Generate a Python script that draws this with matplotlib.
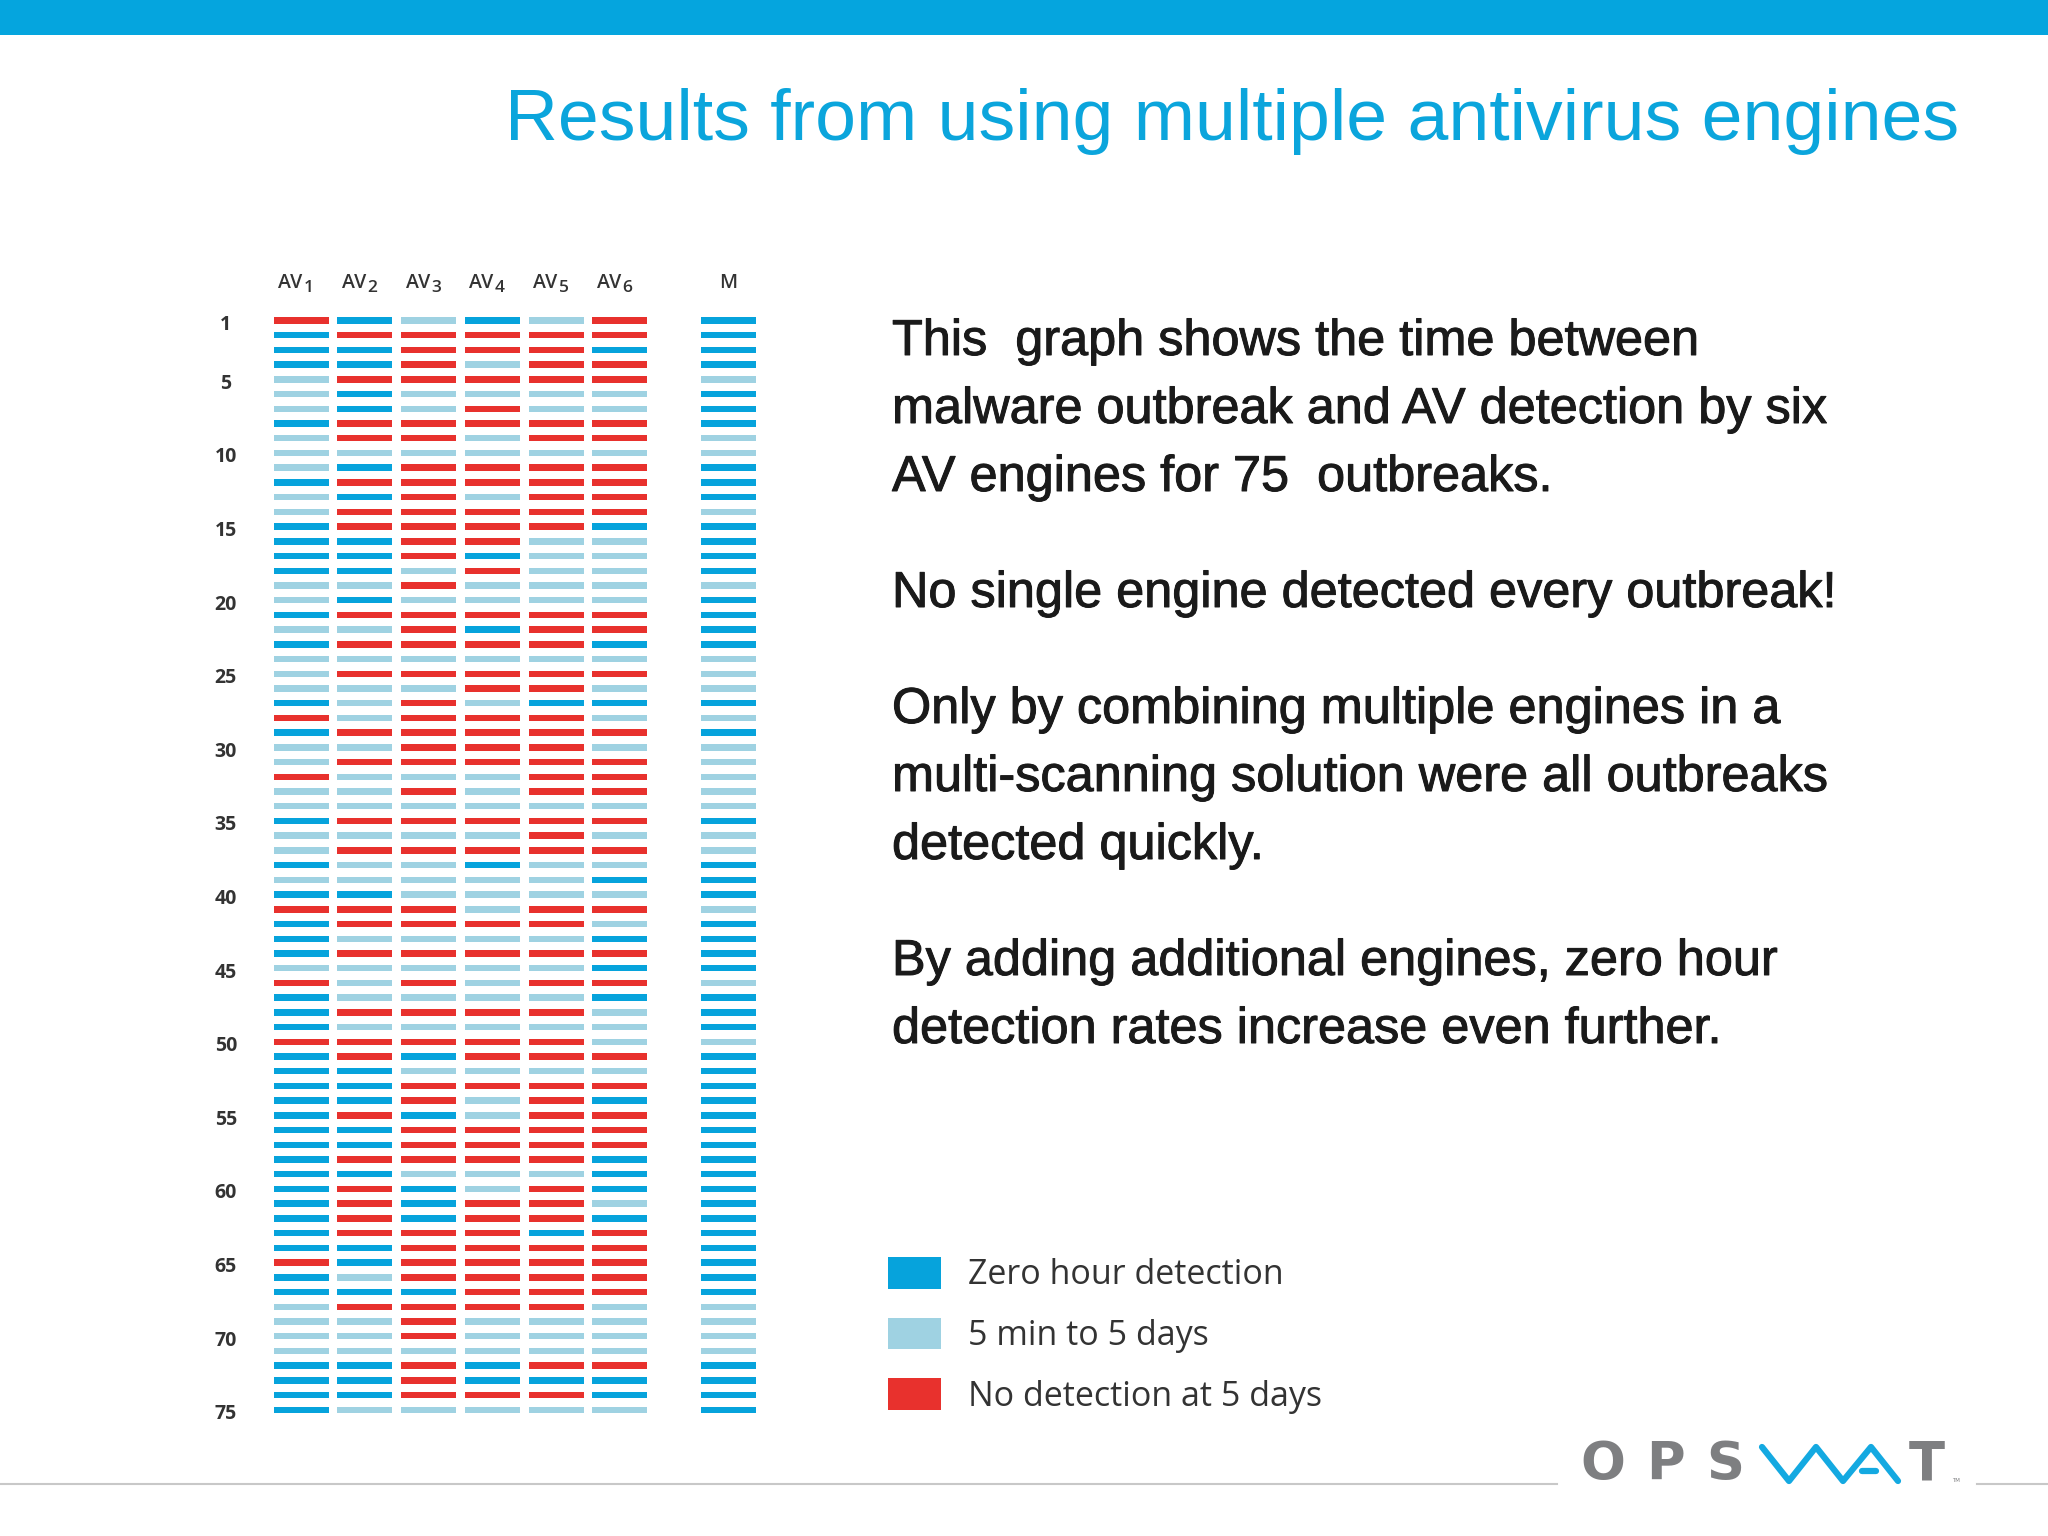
import matplotlib
matplotlib.use("Agg")
import matplotlib.pyplot as plt
from matplotlib.patches import Patch, Rectangle
from matplotlib.font_manager import FontProperties
import matplotlib.patheffects as pe

# ---------------- data ----------------
title = "Results from using multiple antivirus engines"
engines = ["AV1", "AV2", "AV3", "AV4", "AV5", "AV6", "M"]
header_main = ["AV", "AV", "AV", "AV", "AV", "AV", "M"]
header_sub = ["1", "2", "3", "4", "5", "6", ""]
row_ticks = [1, 5, 10, 15, 20, 25, 30, 35, 40, 45, 50, 55, 60, 65, 70, 75]

# Z = zero hour detection, L = 5 min to 5 days, N = no detection at 5 days
av1 = "NZZZLLLZLL" "LZLLZZZZLL" "ZLZLLLZNZL" "LNLLZLLZLZ" "NZZZLNZZZN" "ZZZZZZZZZZ" "ZZZZNZZLLL" "LZZZZ"
av2 = "ZNZZNZZNNL" "ZNZNNZZZLZ" "NLNLNLLLNL" "NLLLNLNLLZ" "NNLNLLLNLN" "NZZZNZZNZN" "NNNZZLZNLL" "LZZZL"
av3 = "LNNNNLLNNL" "NNNNNNNLNL" "NNNLNLNNNN" "NLNLNLNLLL" "NNLNLNLNLN" "ZLNNZNNNLZ" "ZZNNNNZNNN" "LNNNL"
av4 = "ZNNLNLNNLL" "NNLNNNZNLL" "NZNLNNLNNN" "NLLLNLNZLL" "LNLNLLLNLN" "NLNLLNNNLL" "NNNNNNNNLL" "LZZNL"
av5 = "LNNNNLLNNL" "NNNNNLLLLL" "NNNLNNZNNN" "NNNLNNNLLL" "NNLNLNLNLN" "NLNNNNNNLN" "NNZNNNNNLL" "LNZNL"
av6 = "NNZNNLLNNL" "NNNNZLLLLL" "NNZLNLZLNL" "NNNLNLNLZL" "NLZNZNZLLL" "NLNZNNNZZZ" "LZNNNNNLLL" "LNZZL"
multi = "ZZZZLZZZLL" "ZZZLZZZZLZ" "ZZZLLLZLZL" "LLLLZLLZZZ" "LZZZZLZZZL" "ZZZZZZZZZZ" "ZZZZZZZLLL" "LZZZZ"

category_codes = ["Z", "L", "N"]
category_labels = ["Zero hour detection", "5 min to 5 days", "No detection at 5 days"]
category_colors = {"Z": "#06A3DC", "L": "#9FD2E2", "N": "#E8312D"}

paragraphs = [
    ["This  graph shows the time between",
     "malware outbreak and AV detection by six",
     "AV engines for 75  outbreaks."],
    ["No single engine detected every outbreak!"],
    ["Only by combining multiple engines in a",
     "multi-scanning solution were all outbreaks",
     "detected quickly."],
    ["By adding additional engines, zero hour",
     "detection rates increase even further."],
]

# ---------------- layout helpers ----------------
W, H = 2048, 1536
fig = plt.figure(figsize=(W / 100, H / 100), dpi=100, facecolor="white")


def fx(px):
    return px / W


def fy(py):
    return 1 - py / H


# decorative full-figure axes (pixel coordinates)
deco = fig.add_axes([0, 0, 1, 1], zorder=0)
deco.set_xlim(0, W)
deco.set_ylim(H, 0)
deco.axis("off")
deco.add_patch(Rectangle((0, 0), W, 35, facecolor="#05A5DE", edgecolor="none"))
deco.plot([0, 1557], [1484, 1484], color="#C8C8C8", lw=1.5)
deco.plot([1977, W], [1484, 1484], color="#C8C8C8", lw=1.5)

# OPSWAT logo
logo_gray = "#7E7F81"
logo_blue = "#14A9E1"
for ch, cx in zip("OPS", [1603, 1665, 1725]):
    deco.text(cx, 1465, ch, ha="center", va="center", fontsize=38,
              family="DejaVu Sans", weight="bold", color=logo_gray)
deco.text(1927, 1465, "T", ha="center", va="center", fontsize=38,
          family="DejaVu Sans", weight="bold", color=logo_gray)
deco.plot([1762, 1789, 1816, 1843, 1871, 1898],
          [1447, 1481, 1447, 1481, 1447, 1481],
          color=logo_blue, lw=4.5, solid_joinstyle="round", solid_capstyle="round")
deco.plot([1862, 1876], [1471, 1471], color=logo_blue, lw=4.5, solid_capstyle="round")
deco.text(1956, 1480, "TM", ha="center", va="center", fontsize=4, color=logo_gray)

# ---------------- grid chart ----------------
col_pitch = 63.76
c0 = 301.1
row_pitch = 14.72
r1 = 320.5
x_lo, x_hi = -0.5, 7.2
y_top, y_bot = 0.4, 75.6
left_px = c0 + x_lo * col_pitch
right_px = c0 + x_hi * col_pitch
top_px = r1 + (y_top - 1) * row_pitch
bot_px = r1 + (y_bot - 1) * row_pitch
ax = fig.add_axes([fx(left_px), fy(bot_px), fx(right_px - left_px), (bot_px - top_px) / H],
                  zorder=1)
ax.set_xlim(x_lo, x_hi)
ax.set_ylim(y_bot, y_top)
ax.axis("off")

col_positions = [0, 1, 2, 3, 4, 5, 6.7]
series = [av1, av2, av3, av4, av5, av6, multi]
rows = list(range(1, len(av1) + 1))
bar_w = 0.863
for pos, codes in zip(col_positions, series):
    ax.barh(rows, bar_w, left=pos - bar_w / 2, height=0.44,
            color=[category_colors[c] for c in codes], edgecolor="none")

label_color = "#333333"
for r in row_ticks:
    ax.text(-1.18, r + 0.3, str(r), ha="center", va="center", fontsize=14,
            family="Open Sans", weight="bold", color=label_color, clip_on=False)

for pos, main, sub in zip(col_positions, header_main, header_sub):
    if sub:
        ax.text(pos + 0.02, -1.21, main, ha="right", va="baseline", fontsize=14,
                family="Open Sans", weight="semibold", color=label_color, clip_on=False)
        ax.text(pos + 0.04, -0.97, sub, ha="left", va="baseline", fontsize=12.5,
                family="Open Sans", weight="semibold", color=label_color, clip_on=False)
    else:
        ax.text(pos, -1.21, main, ha="center", va="baseline", fontsize=14,
                family="Open Sans", weight="semibold", color=label_color, clip_on=False)

# ---------------- title & text ----------------
fig.text(fx(1959), fy(140), title, ha="right", va="baseline", fontsize=52.8,
         family="Liberation Sans", color="#0BA5DC")

thicken = [pe.withStroke(linewidth=0.7, foreground="#1A1A1A")]
baselines = [[355, 423, 491], [607], [723, 791, 859], [975, 1043]]
for lines, bls in zip(paragraphs, baselines):
    for line, bl in zip(lines, bls):
        fig.text(fx(892), fy(bl), line, ha="left", va="baseline", fontsize=36.3,
                 family="Liberation Sans", color="#1A1A1A", path_effects=thicken)

# ---------------- legend ----------------
handles = [Patch(facecolor=category_colors[c], edgecolor="none") for c in category_codes]
fig.legend(handles, category_labels, loc="upper left",
           bbox_to_anchor=(fx(888), fy(1257)), frameon=False,
           prop=FontProperties(family="Open Sans", size=24.5),
           labelcolor="#333333", handlelength=1.56, handleheight=1.06,
           handletextpad=0.78, labelspacing=0.74, borderpad=0, borderaxespad=0)

fig.savefig("out.png", dpi=100, facecolor="white")
